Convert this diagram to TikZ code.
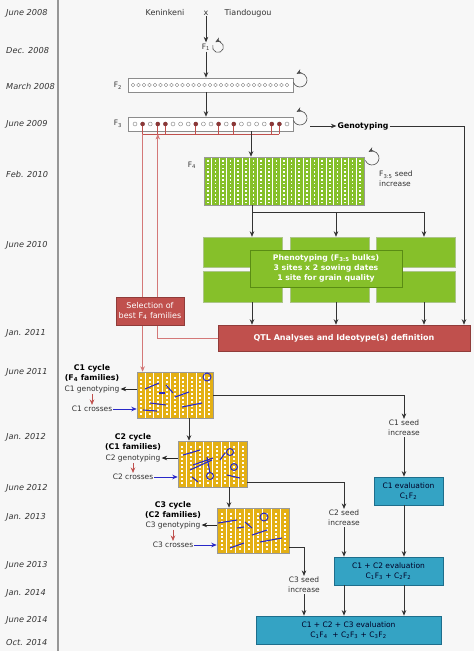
\documentclass[tikz,border=0pt]{standalone}
\usepackage{fontspec}
\setmainfont{DejaVu Sans}
\usetikzlibrary{arrows.meta}
\definecolor{bgGray}{RGB}{247,247,247}
\definecolor{lineGray}{RGB}{150,150,150}
\definecolor{leafGreen}{RGB}{134,192,42}
\definecolor{darkGreen}{RGB}{90,140,20}
\definecolor{brickRed}{RGB}{192,80,77}
\definecolor{selRed}{RGB}{212,120,120}
\definecolor{dotRed}{RGB}{140,55,55}
\definecolor{cycleGold}{RGB}{228,176,20}
\definecolor{crossBlue}{RGB}{40,40,200}
\definecolor{evalTeal}{RGB}{52,163,196}
\definecolor{tealEdge}{RGB}{30,110,140}

\begin{document}
\begin{tikzpicture}[x=1pt,y=-1pt,>={Stealth[length=5.5pt,width=4.5pt]},
  datelbl/.style={font=\fontsize{8.2}{9}\selectfont\itshape,text=black!80,anchor=west,inner sep=0pt},
  txt/.style={font=\fontsize{7.5}{10}\selectfont,text=black!80,align=center,inner sep=1pt},
  headtxt/.style={font=\fontsize{7.8}{10}\selectfont\bfseries,text=black,align=center,inner sep=1pt},
  strip/.style={draw=black!45,fill=white,line width=0.6pt,minimum width=165pt,minimum height=14pt,inner sep=0pt},
  field/.style={fill=leafGreen,draw=darkGreen!50,line width=0.4pt,minimum width=79pt,minimum height=30pt,inner sep=0pt},
  redbox/.style={fill=brickRed,draw=brickRed!75!black,line width=0.5pt,text=white,align=center,inner sep=0pt},
  evalbox/.style={fill=evalTeal,draw=tealEdge,line width=0.7pt,font=\fontsize{7.5}{10}\selectfont,text=black!85!blue,align=center,inner sep=0pt,minimum height=28pt},
  cellgrid/.style={draw=black!40,line width=0.5pt,inner sep=0pt},
  link/.style={->,draw=black!80,line width=0.7pt},
  redlink/.style={draw=selRed,line width=0.7pt},
  selfloop/.style={->,draw=black!70,line width=0.6pt},
  blueline/.style={draw=crossBlue,line width=1.1pt},
]
% Background and time axis
\fill[bgGray] (0,0) rectangle (474,651);
\useasboundingbox (0,0) rectangle (474,651);
\draw[lineGray,line width=1.2pt] (58,0) -- (58,651);

% Dates
\node[datelbl] (d1) at (6,13) {June 2008};
\node[datelbl] (d2) at (6,51) {Dec. 2008};
\node[datelbl] (d3) at (6,86) {March 2008};
\node[datelbl] (d4) at (6,124) {June 2009};
\node[datelbl] (d5) at (6,174) {Feb. 2010};
\node[datelbl] (d6) at (6,245) {June 2010};
\node[datelbl] (d7) at (6,333) {Jan. 2011};
\node[datelbl] (d8) at (6,372) {June 2011};
\node[datelbl] (d9) at (6,437) {Jan. 2012};
\node[datelbl] (d10) at (6,488) {June 2012};
\node[datelbl] (d11) at (6,517) {Jan. 2013};
\node[datelbl] (d12) at (6,565) {June 2013};
\node[datelbl] (d13) at (6,593) {Jan. 2014};
\node[datelbl] (d14) at (6,620) {June 2014};
\node[datelbl] (d15) at (6,643) {Oct. 2014};

% Parents and F1
\node[txt,font=\fontsize{8}{10}\selectfont] (keni) at (165,13) {Keninkeni};
\node[txt,font=\fontsize{8}{10}\selectfont] (cross) at (206,13) {x};
\node[txt,font=\fontsize{8}{10}\selectfont] (tiando) at (248,13) {Tiandougou};
\node[txt] (f1) at (206,47) {F\textsubscript{1}};
\draw[selfloop] (218,47) ++(160:5.5pt) arc (160:480:5.5pt);

% F2 and F3 strips
\node[strip] (f2box) at (210.5,85) {};
\node[txt] (f2lbl) at (118,86) {F\textsubscript{2}};
\foreach \i in {0,...,28}
  \draw[black!50,line width=0.4pt] ({133+5.5*\i},85) circle (1.8pt);
\draw[selfloop] (300,80) ++(200:7pt) arc (200:480:7pt);

\node[strip] (f3box) at (210.5,124) {};
\node[txt] (f3lbl) at (118,124) {F\textsubscript{3}};
\foreach \i in {0,...,20}
  \draw[black!50,line width=0.4pt] ({135+7.6*\i},124) circle (2pt);
\draw[selfloop] (300,118) ++(200:7pt) arc (200:480:7pt);

\draw[link] (cross) -- (f1);
\draw[link] (f1) -- (f1 |- f2box.north);
\draw[link] (f1 |- f2box.south) -- (f1 |- f3box.north);

% Selected F3 plants
\coordinate (selL) at (142.6,134);
\coordinate (selR) at (157.8,134);
\draw[redlink,draw=brickRed] (selL) -- (279.4,134);
\foreach \i in {1,3,4,8,11,13,18,19} {
  \draw[redlink,draw=brickRed] ({135+7.6*\i},124) -- ({135+7.6*\i},134);
  \fill[dotRed] ({135+7.6*\i},124) circle (2.2pt);
}

% Genotyping
\coordinate (gstart) at (310,126);
\coordinate (gright) at (464,126);
\node[headtxt,font=\fontsize{7.8}{10}\selectfont\bfseries] (geno) at (363,126) {Genotyping};
\draw[link] (gstart) -- (geno.west);

% F4 seed increase
\node[cellgrid,fill=leafGreen,minimum width=160pt,minimum height=48pt] (f4) at (284,181) {};
\foreach \c in {1,...,20}
  \draw[white,line width=0.8pt] ({204+7.62*\c},157.5) -- ({204+7.62*\c},204.5);
\foreach \c in {0,...,20}
  \foreach \r in {0,...,11}
    \fill[white] ({204+7.62*\c+3.81-0.8},{160+3.8*\r}) rectangle ++(1.6,1.6);
\node[txt] (f4lbl) at (192,165) {F\textsubscript{4}};
\draw[selfloop] (372,158) ++(200:7pt) arc (200:480:7pt);
\node[txt,align=left,anchor=west] (f4seed) at (378,179) {F\textsubscript{3:5} seed\\increase};
\draw[link] ([xshift=40.5pt]f3box.south) -- ([xshift=40.5pt]f3box.south |- f4.north);

% Phenotyping fields
\node[field] (g1) at (242.5,252) {};
\node[field] (g2) at (329.5,252) {};
\node[field] (g3) at (415.5,252) {};
\node[field,minimum height=31pt] (g4) at (242.5,286.5) {};
\node[field,minimum height=31pt] (g5) at (329.5,286.5) {};
\node[field,minimum height=31pt] (g6) at (415.5,286.5) {};
\node[field,draw=darkGreen,line width=0.7pt,minimum width=152pt,minimum height=37pt,text=white,align=center,
  font=\fontsize{7.7}{10}\selectfont\bfseries] (pheno) at (326,268.5)
  {Phenotyping (F\textsubscript{3:5} bulks)\\3 sites x 2 sowing dates\\1 site for grain quality};

\coordinate (split) at (252,212);
\coordinate (splitM) at (336,212);
\coordinate (splitR) at (424,212);
\draw[draw=black!80,line width=0.7pt] (split |- f4.south) -- (split) -- (splitR);
\draw[link] (split) -- (split |- g1.north);
\draw[link] (splitM) -- (splitM |- g2.north);
\draw[link] (splitR) -- (splitR |- g3.north);

% QTL analyses
\node[redbox,minimum width=252pt,minimum height=26pt,font=\fontsize{8}{9}\selectfont\bfseries] (qtl) at (344,338)
  {QTL Analyses and Ideotype(s) definition};
\draw[link] (split |- g4.south) -- (split |- qtl.north);
\draw[link] (splitM |- g5.south) -- (splitM |- qtl.north);
\draw[link] (splitR |- g6.south) -- (splitR |- qtl.north);
\draw[link] (geno.east) -- (gright) -- (gright |- qtl.north);

% Selection of F4 families
\node[cellgrid,fill=cycleGold,minimum width=76pt,minimum height=46pt] (c1grid) at (175,395) {};
\draw[redlink,->] (selL) -- (selL |- c1grid.north);
\draw[redlink,->] (qtl.west) -| (selR);
\node[redbox,minimum width=68pt,minimum height=28pt,font=\fontsize{8}{10}\selectfont] (sel) at (150,311)
  {Selection of\\best F\textsubscript{4} families};

% C1 cycle
\foreach \c in {1,...,8}
  \draw[white,line width=0.8pt] ({137+8.44*\c},372.5) -- ({137+8.44*\c},417.5);
\foreach \c in {0,...,8}
  \foreach \r in {0,...,9}
    \fill[white] ({137+8.44*\c+4.22-1},{377+4*\r}) rectangle ++(2,2);
\draw[blueline] (145,389) -- (159,383);
\draw[blueline] (166,385) -- (173,393);
\draw[blueline] (159,393) -- (165,393);
\draw[blueline] (175,397) -- (189,392);
\draw[blueline] (150,403) -- (166,405);
\draw[blueline] (143,410) -- (157,411);
\draw[blueline] (182,407) -- (202,403);
\draw[crossBlue,line width=1pt] (207,377) circle (4pt);

\node[headtxt] (c1head) at (92,373) {C1 cycle\\(F\textsubscript{4} families)};
\node[txt] (c1geno) at (92,389) {C1 genotyping};
\node[txt] (c1cross) at (92,409) {C1 crosses};
\draw[link,draw=black!85] (c1grid.west |- c1geno) -- (c1geno.east);
\draw[link,draw=crossBlue] (c1cross.east) -- (c1grid.west |- c1cross);
\draw[->,draw=brickRed,line width=0.7pt] (c1geno.south) -- (c1cross.north);

% C2 cycle
\node[cellgrid,fill=cycleGold,minimum width=69pt,minimum height=46pt] (c2grid) at (212.5,464) {};
\foreach \c in {1,...,7}
  \draw[white,line width=0.8pt] ({178+8.62*\c},441.5) -- ({178+8.62*\c},486.5);
\foreach \c in {0,...,7}
  \foreach \r in {0,...,9}
    \fill[white] ({178+8.62*\c+4.31-1},{446+4*\r}) rectangle ++(2,2);
\draw[blueline] (183,455) -- (200,450);
\draw[blueline] (190,470) -- (212,460);
\draw[blueline] (193,465) -- (213,458);
\draw[blueline] (207,457) -- (210,473);
\draw[blueline] (192,477) -- (198,482);
\draw[blueline] (220,460) -- (225,453);
\draw[blueline] (227,475) -- (240,478);
\draw[crossBlue,line width=1pt] (230,452) circle (3.5pt);
\draw[crossBlue,line width=1pt] (234,467) circle (3.5pt);
\draw[crossBlue,line width=1pt] (210,476) circle (3.5pt);

\node[headtxt] (c2head) at (133,442) {C2 cycle\\(C1 families)};
\node[txt] (c2geno) at (133,458) {C2 genotyping};
\node[txt] (c2cross) at (133,477) {C2 crosses};
\draw[link,draw=black!85] (c2grid.west |- c2geno) -- (c2geno.east);
\draw[link,draw=crossBlue] (c2cross.east) -- (c2grid.west |- c2cross);
\draw[->,draw=brickRed,line width=0.7pt] (c2geno.south) -- (c2cross.north);
\draw[link] ([xshift=14pt]c1grid.south) -- ([xshift=14pt]c1grid.south |- c2grid.north);

% C3 cycle
\node[cellgrid,fill=cycleGold,minimum width=72pt,minimum height=45pt] (c3grid) at (253,530.5) {};
\foreach \c in {1,...,7}
  \draw[white,line width=0.8pt] ({217+9*\c},508.5) -- ({217+9*\c},552.5);
\foreach \c in {0,...,7}
  \foreach \r in {0,...,9}
    \fill[white] ({217+9*\c+4.5-1},{513+3.9*\r}) rectangle ++(2,2);
\draw[blueline] (218,523) -- (237,520);
\draw[blueline] (237,528) -- (244,527);
\draw[blueline] (245,522) -- (252,528);
\draw[blueline] (252,535) -- (267,530);
\draw[blueline] (260,542) -- (282,538);
\draw[blueline] (230,548) -- (244,543);
\draw[crossBlue,line width=1pt] (264,517) circle (4pt);

\node[headtxt] (c3head) at (173,510) {C3 cycle\\(C2 families)};
\node[txt] (c3geno) at (173,525) {C3 genotyping};
\node[txt] (c3cross) at (173,545) {C3 crosses};
\draw[link,draw=black!85] (c3grid.west |- c3geno) -- (c3geno.east);
\draw[link,draw=crossBlue] (c3cross.east) -- (c3grid.west |- c3cross);
\draw[->,draw=brickRed,line width=0.7pt] (c3geno.south) -- (c3cross.north);
\draw[link] ([xshift=16.5pt]c2grid.south) -- ([xshift=16.5pt]c2grid.south |- c3grid.north);

% Seed increases and evaluations
\node[txt] (c1seed) at (404,428) {C1 seed\\increase};
\node[txt] (c2seed) at (344,518) {C2 seed\\increase};
\node[txt] (c3seed) at (304,585) {C3 seed\\increase};
\node[evalbox,minimum width=69pt] (c1eval) at (408.5,491) {C1 evaluation\\C\textsubscript{1}F\textsubscript{2}};
\node[evalbox,minimum width=109pt] (c12eval) at (388.5,571) {C1 + C2 evaluation\\C\textsubscript{1}F\textsubscript{3} + C\textsubscript{2}F\textsubscript{2}};
\node[evalbox,minimum width=185pt] (c123eval) at (348.5,630) {C1 + C2 + C3 evaluation\\C\textsubscript{1}F\textsubscript{4} \ + C\textsubscript{2}F\textsubscript{3} + C\textsubscript{3}F\textsubscript{2}};

\draw[link] (c1grid.east) -| (c1seed.north);
\draw[link] ([yshift=5pt]c2grid.south east) -| (c2seed.north);
\draw[link] ([yshift=6pt]c3grid.south east) -| (c3seed.north);
\draw[link] (c1seed.south) -- (c1seed.south |- c1eval.north);
\draw[link] (c2seed.south) -- (c2seed.south |- c12eval.north);
\draw[link] (c3seed.south) -- (c3seed.south |- c123eval.north);
\draw[link] (c1seed |- c1eval.south) -- (c1seed |- c12eval.north);
\draw[link] (c2seed |- c12eval.south) -- (c2seed |- c123eval.north);
\draw[link] (c1seed |- c12eval.south) -- (c1seed |- c123eval.north);
\end{tikzpicture}
\end{document}
